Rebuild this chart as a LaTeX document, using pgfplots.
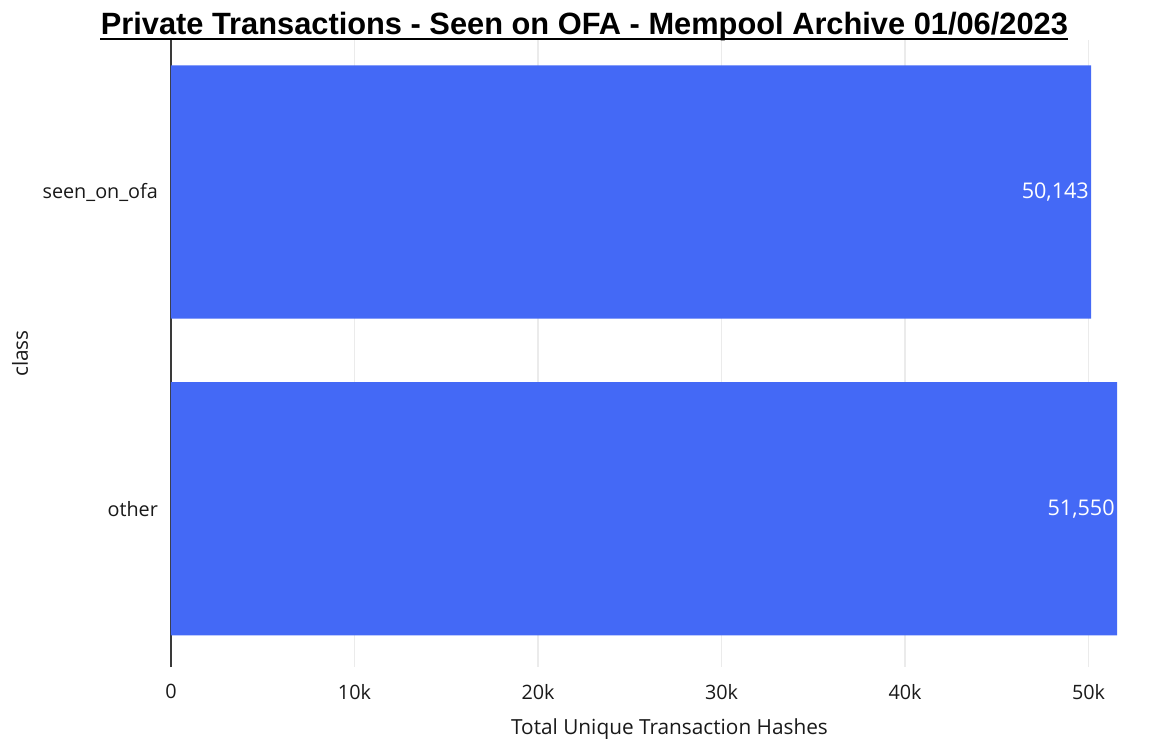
\documentclass[border=0pt]{standalone}
\usepackage{fontspec}
\setmainfont{Open Sans}
\newfontfamily\titlefont{Liberation Sans}
\usepackage{pgfplots}
\pgfplotsset{compat=1.18}
\definecolor{barblue}{HTML}{4469F6}
\definecolor{gridgray}{HTML}{EBEBEB}
\definecolor{axisgray}{HTML}{3A3A3A}

\begin{document}
\begin{tikzpicture}
\begin{axis}[
    at={(0,0)}, anchor=south west,
    scale only axis, width=473pt, height=313.5pt,
    xbar, bar width=0.8,
    xmin=0, xmax=51550,
    ymin=-0.5, ymax=1.48,
    ytick={0,1}, yticklabels={other,seen\_on\_ofa},
    xtick={0,10000,20000,30000,40000,50000},
    xticklabels={0,10k,20k,30k,40k,50k},
    scaled x ticks=false,
    axis x line*=bottom, x axis line style={draw=none},
    axis y line*=left, y axis line style={draw=axisgray, line width=0.6pt, -},
    major tick length=0pt,
    xmajorgrids, grid style={gridgray, line width=0.6pt},
    tick label style={font=\fontsize{9.9}{11}\selectfont, text=black!90},
    xticklabel style={yshift=-5pt},
    yticklabel style={xshift=-3pt},
    /pgf/number format/assume math mode=true,
    /pgf/number format/1000 sep={,},
    nodes near coords,
    every node near coord/.append style={anchor=east, text=white, inner sep=1pt,
        font=\fontsize{10.8}{12}\selectfont},
    every axis x label/.style={at={(axis description cs:0.527,0)}, yshift=-31pt, anchor=center},
    every axis y label/.style={at={(axis description cs:0,0.5)}, xshift=-75.5pt, rotate=90, anchor=center},
    label style={font=\fontsize{10.4}{12}\selectfont, text=black!90},
    xlabel={Total Unique Transaction Hashes},
    ylabel={class},
]
\addplot[fill=barblue, draw=none] coordinates {(51550,0) (50143,1)};
\end{axis}
\node[anchor=base, inner sep=0pt, font=\titlefont\bfseries\fontsize{15.4}{17}\selectfont] (title)
    at (206.7pt,316pt) {Private Transactions - Seen on OFA - Mempool Archive 01/06/2023};
\draw[line width=1pt] ([yshift=-2pt]title.base west) -- ([yshift=-2pt]title.base east);
\pgfresetboundingbox
\path (-85.5pt,-41.5pt) rectangle (494.5pt,333.5pt);
\end{tikzpicture}
\end{document}
